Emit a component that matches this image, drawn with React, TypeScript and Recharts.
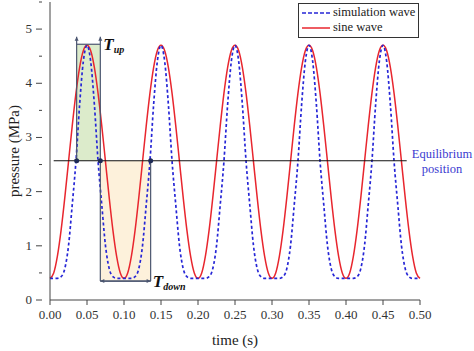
import {
  ComposedChart,
  Line,
  XAxis,
  YAxis,
  ReferenceLine,
  ReferenceArea,
  ReferenceDot,
  Label,
} from "recharts";

// sample times (s)
const time = [
  0.0, 0.005, 0.01, 0.015, 0.02, 0.025, 0.03, 0.035, 0.04, 0.045,
  0.05, 0.055, 0.06, 0.065, 0.07, 0.075, 0.08, 0.085, 0.09, 0.095,
  0.1, 0.105, 0.11, 0.115, 0.12, 0.125, 0.13, 0.135, 0.14, 0.145,
  0.15, 0.155, 0.16, 0.165, 0.17, 0.175, 0.18, 0.185, 0.19, 0.195,
  0.2, 0.205, 0.21, 0.215, 0.22, 0.225, 0.23, 0.235, 0.24, 0.245,
  0.25, 0.255, 0.26, 0.265, 0.27, 0.275, 0.28, 0.285, 0.29, 0.295,
  0.3, 0.305, 0.31, 0.315, 0.32, 0.325, 0.33, 0.335, 0.34, 0.345,
  0.35, 0.355, 0.36, 0.365, 0.37, 0.375, 0.38, 0.385, 0.39, 0.395,
  0.4, 0.405, 0.41, 0.415, 0.42, 0.425, 0.43, 0.435, 0.44, 0.445,
  0.45, 0.455, 0.46, 0.465, 0.47, 0.475, 0.48, 0.485, 0.49, 0.495,
  0.5,
];

// pressure (MPa)
const simulationWave = [
  0.40, 0.40, 0.40, 0.43, 0.58, 1.00, 1.75, 2.55, 3.60, 4.40,
  4.70, 4.40, 3.60, 2.55, 1.75, 1.00, 0.58, 0.43, 0.40, 0.40,
  0.40, 0.40, 0.40, 0.43, 0.58, 1.00, 1.75, 2.55, 3.60, 4.40,
  4.70, 4.40, 3.60, 2.55, 1.75, 1.00, 0.58, 0.43, 0.40, 0.40,
  0.40, 0.40, 0.40, 0.43, 0.58, 1.00, 1.75, 2.55, 3.60, 4.40,
  4.70, 4.40, 3.60, 2.55, 1.75, 1.00, 0.58, 0.43, 0.40, 0.40,
  0.40, 0.40, 0.40, 0.43, 0.58, 1.00, 1.75, 2.55, 3.60, 4.40,
  4.70, 4.40, 3.60, 2.55, 1.75, 1.00, 0.58, 0.43, 0.40, 0.40,
  0.40, 0.40, 0.40, 0.43, 0.58, 1.00, 1.75, 2.55, 3.60, 4.40,
  4.70, 4.40, 3.60, 2.55, 1.75, 1.00, 0.58, 0.43, 0.40, 0.40,
  0.40,
];

const sineWave = [
  0.40, 0.50, 0.81, 1.29, 1.89, 2.55, 3.21, 3.81, 4.29, 4.60,
  4.70, 4.60, 4.29, 3.81, 3.21, 2.55, 1.89, 1.29, 0.81, 0.50,
  0.40, 0.50, 0.81, 1.29, 1.89, 2.55, 3.21, 3.81, 4.29, 4.60,
  4.70, 4.60, 4.29, 3.81, 3.21, 2.55, 1.89, 1.29, 0.81, 0.50,
  0.40, 0.50, 0.81, 1.29, 1.89, 2.55, 3.21, 3.81, 4.29, 4.60,
  4.70, 4.60, 4.29, 3.81, 3.21, 2.55, 1.89, 1.29, 0.81, 0.50,
  0.40, 0.50, 0.81, 1.29, 1.89, 2.55, 3.21, 3.81, 4.29, 4.60,
  4.70, 4.60, 4.29, 3.81, 3.21, 2.55, 1.89, 1.29, 0.81, 0.50,
  0.40, 0.50, 0.81, 1.29, 1.89, 2.55, 3.21, 3.81, 4.29, 4.60,
  4.70, 4.60, 4.29, 3.81, 3.21, 2.55, 1.89, 1.29, 0.81, 0.50,
  0.40,
];

const xTicks = [0, 0.05, 0.1, 0.15, 0.2, 0.25, 0.3, 0.35, 0.4, 0.45, 0.5];
const yTicks = [0, 0.5, 1, 1.5, 2, 2.5, 3, 3.5, 4, 4.5, 5, 5.5];

// annotation values
const equilibrium = 2.57;
const tUpStart = 0.036;
const tUpEnd = 0.068;
const tDownEnd = 0.136;
const upTop = 4.72;
const arrowTop = 4.86;
const downBottom = 0.35;

const data = time.map((t, i) => ({
  t,
  simulation: simulationWave[i],
  sine: sineWave[i],
}));

const FONT = "'Liberation Serif', 'Times New Roman', serif";
const RED = "#e8262e";
const BLUE = "#2626d6";
const FRAME = "#4b5670";

const YTick = (props: any) => {
  const { x, y, payload } = props;
  const major = Number.isInteger(payload.value);
  return (
    <g>
      <line x1={x} x2={x - (major ? 6 : 3)} y1={y} y2={y} stroke="#444" />
      {major && payload.value <= 5 && (
        <text x={x - 10} y={y} dy={4} textAnchor="end" fontSize={13} fontFamily={FONT} fill="#333">
          {payload.value}
        </text>
      )}
    </g>
  );
};

// segment with an arrowhead at the (x2, y2) end
const arrowLine = (props: any) => {
  const { x1, y1, x2, y2 } = props;
  const dx = x2 - x1;
  const dy = y2 - y1;
  const len = Math.sqrt(dx * dx + dy * dy) || 1;
  const ux = dx / len;
  const uy = dy / len;
  const s = 4;
  const head = `${x2},${y2} ${x2 - ux * s - uy * 2},${y2 - uy * s + ux * 2} ${x2 - ux * s + uy * 2},${y2 - uy * s - ux * 2}`;
  return (
    <g>
      <line x1={x1} y1={y1} x2={x2} y2={y2} stroke={FRAME} strokeWidth={1.2} />
      <polygon points={head} fill={FRAME} />
    </g>
  );
};

const plainLine = (props: any) => {
  const { x1, y1, x2, y2 } = props;
  return <line x1={x1} y1={y1} x2={x2} y2={y2} stroke={FRAME} strokeWidth={1.2} />;
};

const periodLabel = (sub: string) => (props: any) => {
  const { cx, cy } = props;
  return (
    <text x={cx} y={cy + 6} fontFamily={FONT} fontWeight="bold" fontStyle="italic" fill="#111">
      <tspan fontSize={17}>T</tspan>
      <tspan fontSize={10} dy={3}>
        {sub}
      </tspan>
    </text>
  );
};

const equilibriumLabel = (props: any) => {
  const { cx, cy } = props;
  return (
    <text fontFamily={FONT} fontSize={12.5} fill="#3a3ad0" textAnchor="middle">
      <tspan x={cx + 22} y={cy - 3}>Equilibrium</tspan>
      <tspan x={cx + 22} y={cy + 12}>position</tspan>
    </text>
  );
};

const LegendBox = () => (
  <div
    style={{
      position: "absolute",
      left: 298,
      top: 3,
      border: "1px solid #333",
      background: "#fff",
      width: 119,
      padding: "1px 0 2px 0",
      fontFamily: FONT,
      fontSize: 12.5,
      color: "#222",
      lineHeight: "15px",
    }}
  >
    <div style={{ display: "flex", alignItems: "center" }}>
      <svg width={34} height={10}>
        <line x1={3} x2={31} y1={5} y2={5} stroke={BLUE} strokeWidth={1.3} strokeDasharray="4 2" />
      </svg>
      <span>simulation wave</span>
    </div>
    <div style={{ display: "flex", alignItems: "center" }}>
      <svg width={34} height={10}>
        <line x1={3} x2={31} y1={5} y2={5} stroke={RED} strokeWidth={1.5} />
      </svg>
      <span>sine wave</span>
    </div>
  </div>
);

export default function App() {
  return (
    <div style={{ position: "absolute", left: 0, top: 0, width: 474, height: 351, background: "#fff" }}>
      <ComposedChart
        width={474}
        height={351}
        data={data}
        margin={{ top: 2, right: 54, bottom: 0, left: 0 }}
      >
        <XAxis
          dataKey="t"
          type="number"
          domain={[0, 0.5]}
          ticks={xTicks}
          tickFormatter={(v: number) => v.toFixed(2)}
          height={51}
          stroke="#444"
          tickSize={5}
          tick={{ fontSize: 13, fontFamily: FONT, fill: "#333" }}
          tickMargin={5}
        >
          <Label value="time (s)" position="insideBottom" offset={6} style={{ fontSize: 15, fontFamily: FONT, fill: "#222" }} />
        </XAxis>
        <YAxis
          type="number"
          domain={[0, 5.5]}
          ticks={yTicks}
          width={50}
          stroke="#444"
          tickLine={false}
          tick={<YTick />}
          interval={0}
        >
          <Label value="pressure (MPa)" angle={-90} position="insideLeft" offset={14} style={{ fontSize: 15, fontFamily: FONT, fill: "#222", textAnchor: "middle" }} />
        </YAxis>

        <ReferenceArea x1={tUpStart} x2={tUpEnd} y1={equilibrium} y2={upTop} fill="#dcebcb" fillOpacity={1} stroke="none" />
        <ReferenceArea x1={tUpEnd} x2={tDownEnd} y1={downBottom} y2={equilibrium} fill="#fdf1db" fillOpacity={1} stroke="none" />

        <Line dataKey="sine" type="monotone" stroke={RED} strokeWidth={1.5} dot={false} isAnimationActive={false} />
        <Line dataKey="simulation" type="monotone" stroke={BLUE} strokeWidth={1.7} strokeDasharray="3 2.5" dot={false} isAnimationActive={false} />

        <ReferenceLine segment={[{ x: 0.005, y: equilibrium }, { x: 0.482, y: equilibrium }]} stroke="#111" strokeWidth={1.2} />

        <ReferenceLine segment={[{ x: tUpStart, y: equilibrium }, { x: tUpStart, y: arrowTop }]} shape={arrowLine} />
        <ReferenceLine segment={[{ x: tUpEnd, y: equilibrium }, { x: tUpEnd, y: arrowTop }]} shape={arrowLine} />
        <ReferenceLine segment={[{ x: tUpStart, y: upTop }, { x: tUpEnd, y: upTop }]} shape={plainLine} />
        <ReferenceLine segment={[{ x: tUpEnd, y: equilibrium }, { x: tUpEnd, y: downBottom }]} shape={plainLine} />
        <ReferenceLine segment={[{ x: tDownEnd, y: equilibrium }, { x: tDownEnd, y: downBottom }]} shape={plainLine} />
        <ReferenceLine segment={[{ x: tDownEnd, y: downBottom }, { x: tUpEnd, y: downBottom }]} shape={arrowLine} />
        <ReferenceLine segment={[{ x: tUpEnd, y: downBottom }, { x: tDownEnd, y: downBottom }]} shape={arrowLine} />

        <ReferenceDot x={tUpStart} y={equilibrium} r={2.5} fill="#1e2a55" stroke="none" />
        <ReferenceDot x={tUpEnd} y={equilibrium} r={2.5} fill="#1e2a55" stroke="none" />
        <ReferenceDot x={tDownEnd} y={equilibrium} r={2.5} fill="#1e2a55" stroke="none" />

        <ReferenceDot x={0.072} y={upTop} shape={periodLabel("up")} ifOverflow="visible" />
        <ReferenceDot x={0.139} y={downBottom} shape={periodLabel("down")} ifOverflow="visible" />
        <ReferenceDot x={0.5} y={equilibrium} shape={equilibriumLabel} ifOverflow="visible" />
      </ComposedChart>
      <LegendBox />
    </div>
  );
}
